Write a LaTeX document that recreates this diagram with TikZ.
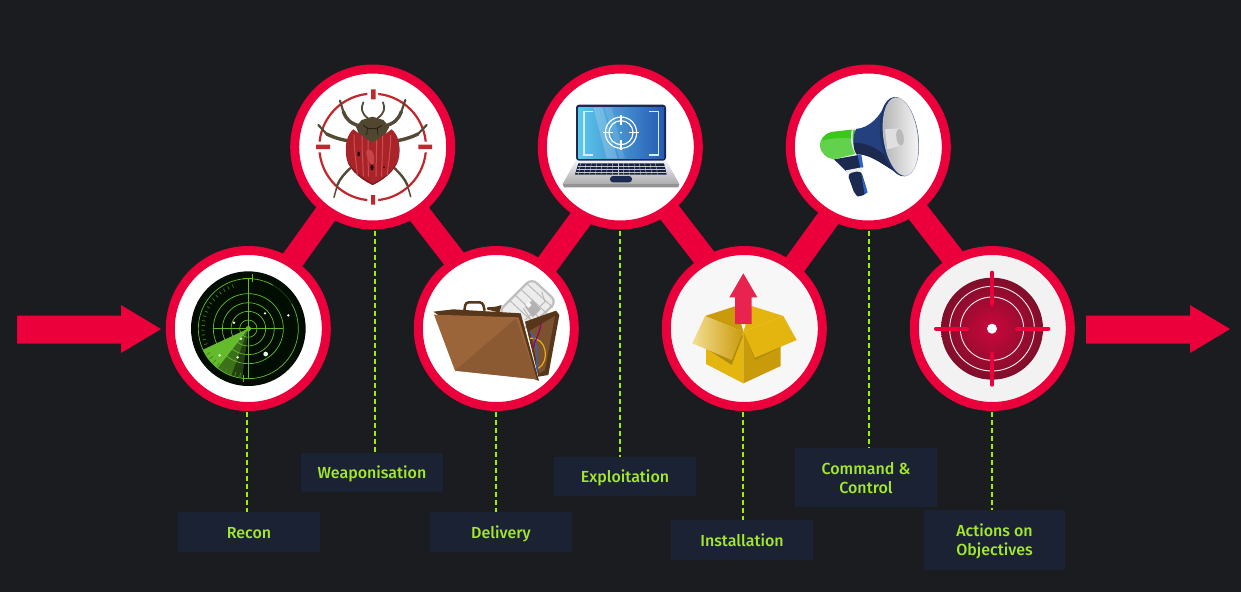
\documentclass[tikz,border=0pt]{standalone}
\usepackage{fontspec}
\setmainfont{Fira Sans}
\newfontfamily\lab{Fira Sans Medium}
\usetikzlibrary{calc,shadings}
\pgfdeclarelayer{bgl}\pgfdeclarelayer{barl}
\pgfsetlayers{bgl,barl,main}
\newcommand{\topst}{\rule{0pt}{17pt}}
\newcommand{\botst}{\rule[-5pt]{0pt}{5pt}}
\newcommand{\onest}{\rule[-5pt]{0pt}{22pt}}
\definecolor{pagebg}{HTML}{1A1C1F}
\definecolor{tagbg}{HTML}{1A2234}
\definecolor{redc}{HTML}{EB003B}
\definecolor{limec}{HTML}{9FEF00}
\definecolor{labc}{HTML}{A4E82A}
\definecolor{radg}{HTML}{64BC2C}
\definecolor{bugr}{HTML}{C1272D}
\definecolor{bugs}{HTML}{A82429}
\definecolor{bugd}{HTML}{7E1A1F}
\definecolor{bugl}{HTML}{CF4C52}
\definecolor{legc}{HTML}{544A38}
\definecolor{headc}{HTML}{51462F}
\definecolor{navyc}{HTML}{24407F}
\definecolor{navyd}{HTML}{1C2A50}
\definecolor{blued}{HTML}{2D63C8}
\definecolor{caseu}{HTML}{9B6539}
\definecolor{casel}{HTML}{8C5A32}
\definecolor{cased}{HTML}{573619}
\definecolor{casei}{HTML}{7A5230}
\definecolor{boxa}{HTML}{E5B50F}
\definecolor{boxb}{HTML}{C99A0A}
\definecolor{boxc}{HTML}{F5DE93}
\definecolor{boxd}{HTML}{AE8C10}
\definecolor{uparr}{HTML}{E8234F}
\definecolor{grna}{HTML}{3AC81C}
\definecolor{grnb}{HTML}{62D24C}
\definecolor{tgta}{HTML}{CC063C}
\definecolor{tgtb}{HTML}{7E0F2A}
\tikzset{
  stage/.style={circle,draw=redc,line width=9pt,inner sep=0pt,minimum size=156pt},
  tag/.style={fill=tagbg,minimum width=142pt,inner sep=0pt,outer sep=0pt,text=labc,align=center,font=\lab\fontsize{16}{19}\selectfont},
  drop/.style={draw=limec,line width=1.6pt,dash pattern=on 5pt off 3pt},
  bar/.style={draw=redc,line width=23pt},
  flow/.style={fill=redc},
  za/.style={shift={(150,60)},x=0.33333pt,y=-0.33333pt},
  zb/.style={shift={(410,60)},x=0.33333pt,y=-0.33333pt},
  zc/.style={shift={(660,60)},x=0.33333pt,y=-0.33333pt},
}
\begin{document}
\begin{tikzpicture}[x=1pt,y=-1pt]
\begin{pgfonlayer}{bgl}
\fill[pagebg] (0,0) rectangle (1241,592);
\end{pgfonlayer}
\useasboundingbox (0,0) rectangle (1241,592);
% stages
\node[stage,fill=white] (c1) at (248.3,328.5) {};
\node[stage,fill=white] (c2) at (372.7,147) {};
\node[stage,fill=white] (c3) at (496.3,328.5) {};
\node[stage,fill=white] (c4) at (620.3,147) {};
\node[stage,fill=white!97!black] (c5) at (744.3,328.5) {};
\node[stage,fill=white] (c6) at (868.3,147) {};
\node[stage,fill=white!95!black] (c7) at (992.3,328.5) {};
% bars
\begin{pgfonlayer}{barl}
\draw[bar] ($(c1.center)+(25,-41.7)$) -- ($(c2.center)+(-27.7,40.1)$);
\draw[bar] ($(c2.center)+(27.3,41.9)$) -- ($(c3.center)+(-23,-44.9)$);
\draw[bar] ($(c3.center)+(31.5,-37.6)$) -- ($(c4.center)+(-20,45)$);
\draw[bar] ($(c4.center)+(30,40.5)$) -- ($(c5.center)+(-22,-47.6)$);
\draw[bar] ($(c5.center)+(31,-36.7)$) -- ($(c6.center)+(-21,45)$);
\draw[bar] ($(c6.center)+(30.5,40.5)$) -- ($(c7.center)+(-20,-46)$);
\end{pgfonlayer}
% flow arrows
\fill[flow] (17,315.5) -- (121,315.5) -- (121,305) -- (161,329) -- (121,353) -- (121,343.5) -- (17,343.5) -- cycle;
\fill[flow] (1086,315.5) -- (1190,315.5) -- (1190,305) -- (1230,329) -- (1190,353) -- (1190,343.5) -- (1086,343.5) -- cycle;
% labels
\node[tag,minimum height=40pt] (l1) at (249,532) {\onest Recon};
\node[tag,minimum height=39pt] (l2) at (372,472.5) {\onest Weaponisation};
\node[tag,minimum height=40pt] (l3) at (501,532) {\onest Delivery};
\node[tag,minimum height=39pt] (l4) at (625,476.5) {\onest Exploitation};
\node[tag,minimum height=40pt] (l5) at (742,540) {\onest Installation};
\node[tag,minimum height=59pt] (l6) at (866,477.5) {\topst Command \&\\\botst Control};
\node[tag,minimum height=60pt,minimum width=141pt] (l7) at (994.5,540) {\topst Actions on\\\botst Objectives};
% connectors
\coordinate (d1) at (247,412);
\coordinate (d2) at (375,231);
\coordinate (d3) at (496,412);
\coordinate (d4) at (620,231);
\coordinate (d5) at (743,412);
\coordinate (d6) at (869,231);
\coordinate (d7) at (992,412);
\foreach \i in {1,...,7} {\draw[drop] (d\i) -- (d\i |- l\i.north);}

% ---------- radar
\begin{scope}[za]
\fill[black!95!green] (295,806) circle[radius=172];
\begin{scope}[shift={(295,806)}]
\fill[radg!35!black] (0,0) -- (97:150) arc[start angle=97,end angle=155,radius=150] -- cycle;
\fill[radg!60!black] (0,0) -- (110:150) arc[start angle=110,end angle=155,radius=150] -- cycle;
\fill[radg] (0,0) -- (128:150) arc[start angle=128,end angle=155,radius=150] -- cycle;
\foreach \r in {26,52,78,105} \draw[radg,line width=.7pt] (0,0) circle[radius=\r];
\draw[radg,line width=.7pt] (-105,0) -- (105,0);
\draw[radg,line width=.7pt] (0,-150) -- (0,150);
\draw[radg,line width=.7pt] (155:150) arc[start angle=155,end angle=300,radius=150];
\draw[radg!50!black,line width=.4pt] (-60:150) arc[start angle=-60,end angle=-30,radius=150];
\draw[radg,line width=.7pt] (-30:150) arc[start angle=-30,end angle=155,radius=150];
\draw[radg,line width=.7pt] (-15,-150) -- (15,-150) (-15,150) -- (15,150) (12,-164) -- (12,-140) (-15,140) -- (-15,160);
\foreach \a in {160,166,...,250} \draw[radg!60!black,line width=.8pt] (\a:131) -- (\a:141);
\foreach \a in {100,106,...,150} \draw[radg!70!black,line width=.8pt] (\a:135) -- (\a:147);
\fill[radg] (0,0) circle[radius=8];
\foreach \p/\s in {(-43,-18)/4,(50,-46)/4,(120,-40)/4,(-22,30)/4,(-86,80)/4,(-32,86)/4,(52,76)/7} \fill[white!90!green] \p circle[radius=\s];
\end{scope}
\end{scope}

% ---------- bug
\begin{scope}[za]
\draw[bugr,line width=2.2pt] (668,261) circle[radius=160];
\fill[white] (652,90) rectangle (684,125) (652,395) rectangle (684,435) (495,245) rectangle (535,277) (800,245) rectangle (850,277);
\fill[bugr] (663,88) rectangle (677,118) (663,405) rectangle (675,434) (498,254) rectangle (540,267) (805,254) rectangle (846,267);
\draw[legc,line width=3.4pt,line cap=round] (635,200) .. controls (600,190) and (590,180) .. (580,155);
\draw[legc,line width=2.2pt,line cap=round] (580,155) -- (570,122);
\draw[legc,line width=3.4pt,line cap=round] (699,200) .. controls (734,190) and (744,180) .. (754,155);
\draw[legc,line width=2.2pt,line cap=round] (754,155) -- (766,120);
\draw[legc,line width=3.4pt,line cap=round] (600,243) .. controls (575,240) and (550,232) .. (530,222);
\draw[legc,line width=2.2pt,line cap=round] (530,222) -- (505,195);
\draw[legc,line width=3.4pt,line cap=round] (734,243) .. controls (759,240) and (784,232) .. (804,222);
\draw[legc,line width=2.2pt,line cap=round] (804,222) -- (830,195);
\draw[legc,line width=2.4pt,line cap=round] (600,325) .. controls (585,340) and (570,355) .. (562,375);
\draw[legc,line width=1.5pt,line cap=round] (562,375) -- (552,412);
\draw[legc,line width=2.4pt,line cap=round] (734,325) .. controls (749,340) and (764,355) .. (772,375);
\draw[legc,line width=1.5pt,line cap=round] (772,375) -- (782,410);
\draw[legc,line width=1.8pt,line cap=round] (654,175) .. controls (634,160) and (632,145) .. (640,127);
\draw[legc,line width=1.8pt,line cap=round] (682,175) .. controls (704,160) and (706,145) .. (699,127);
\fill[headc] (618,200) -- (635,180) -- (667,170) -- (700,180) -- (718,200) -- (705,225) -- (667,250) -- (628,225) -- cycle;
\draw[black!70!headc,line width=.6pt] (640,195) .. controls (650,210) and (685,210) .. (695,195) (652,205) -- (650,225) (682,205) -- (684,225);
\fill[bugs] (610,208) -- (667,250) -- (725,208) .. controls (745,225) and (751,255) .. (748,285) .. controls (745,322) and (710,355) .. (668,375) .. controls (626,355) and (590,322) .. (588,285) .. controls (585,255) and (590,225) .. (610,208) -- cycle;
\begin{scope}
\clip (610,208) -- (667,250) -- (725,208) .. controls (745,225) and (751,255) .. (748,285) .. controls (745,322) and (710,355) .. (668,375) .. controls (626,355) and (590,322) .. (588,285) .. controls (585,255) and (590,225) .. (610,208) -- cycle;
\draw[bugd,line width=2.5pt] (585,300) .. controls (610,340) and (640,360) .. (668,375) .. controls (700,360) and (730,340) .. (750,300);
\foreach \xa/\xb in {612/622,636/640,654/655,680/678,698/695,722/712}
  \draw[bugl,line width=1pt] (\xa,225) .. controls (\xa,285) and (\xb,320) .. (\xb,350);
\fill[bugl!80!bugs] (650,270) .. controls (665,262) and (680,285) .. (668,320) .. controls (655,300) and (645,285) .. (650,270);
\end{scope}
\fill[black!85!red] (626,282) ellipse[x radius=4,y radius=7];
\fill[black!85!red] (666,322) ellipse[x radius=5,y radius=9];
\fill[black!85!red] (702,322) circle[radius=3];
\end{scope}

% ---------- briefcase
\begin{scope}[zb]
\draw[gray!50,fill=gray!15,line width=2.2pt,rounded corners=7pt] (265,755) -- (365,655) -- (440,725) -- (350,810) -- cycle;
\draw[gray!55,line width=1pt] (315,705) -- (395,780) (335,690) -- (412,762) (300,722) -- (378,795) (352,672) -- (428,742);
\draw[gray!55,line width=1pt] (345,780) -- (405,725) -- (395,695) (370,790) -- (340,745);
\fill[gray!60] (345,740) -- (368,720) -- (392,748) -- (368,772) -- cycle;
\fill[white!92!gray] (355,725) -- (365,735) -- (356,744) -- (347,735) -- cycle;
% case back panel
\fill[cased] (345,785) -- (438,752) -- (448,765) -- (415,945) -- (385,950) -- cycle;
\fill[casei] (360,812) -- (435,768) -- (405,930) -- (387,940) -- cycle;
\draw[boxa!90!orange,line width=1.2pt] (360,835) .. controls (412,830) and (420,905) .. (385,925);
\draw[blued,line width=1.2pt] (360,815) .. controls (390,850) and (375,885) .. (382,935);
\draw[violet!80!red,line width=1.2pt] (393,790) .. controls (388,830) and (372,840) .. (370,865);
\draw[cased,line width=2.5pt,rounded corners=3pt] (163,752) -- (167,727) -- (218,727) -- (224,752);
\fill[cased] (230,748) -- (232,742) -- (258,740) -- (275,735) -- (268,758) -- cycle;
\fill[cased] (70,755) -- (130,748) -- (332,760) -- (387,962) -- (378,960) -- cycle;
\fill[caseu] (72,764) -- (326,772) -- (380,958) -- (135,932) -- cycle;
\fill[casel] (318,775) -- (380,958) -- (135,932) -- cycle;
\end{scope}

% ---------- laptop
\begin{scope}[zb]
\path[top color=gray!30!blue!5!white,bottom color=gray!65] (498,300) -- (768,300) -- (808,372) -- (458,372) -- cycle;
\fill[gray!85] (458,372) -- (808,372) -- (805,382) -- (462,382) -- cycle;
\fill[navyd,rounded corners=3pt] (498,134) rectangle (768,302);
\path[left color=blued!50!cyan!70!white,right color=blued!90!black] (505,142) rectangle (762,295);
\fill[white,opacity=.2] (550,142) -- (578,142) -- (622,295) -- (590,295) -- cycle;
\fill[white,opacity=.13] (583,142) -- (605,142) -- (645,295) -- (628,295) -- cycle;
\draw[white!80!cyan,line width=1.2pt] (550,154) -- (522,154) -- (522,285) -- (550,285);
\draw[white!80!cyan,line width=1.2pt] (718,154) -- (746,154) -- (746,285) -- (718,285);
\draw[white,line width=1.2pt] (633,218) circle[radius=47];
\draw[white,line width=1.2pt] (633,218) circle[radius=36];
\draw[white,line width=1.2pt] (580,218) -- (610,218) (656,218) -- (686,218) (633,165) -- (633,195) (633,241) -- (633,271);
\fill[white] (633,218) circle[radius=3];
\fill[navyd!80!black] (505,310) -- (762,310) -- (770,344) -- (495,344) -- cycle;
\foreach \yy/\xa/\xb in {318/503/764,327/500/766,336/498/768} \draw[gray!45,line width=.5pt] (\xa,\yy) -- (\xb,\yy);
\foreach \k in {0,1,...,14} \draw[gray!45,line width=.4pt] ({512+\k*16},310) -- ({505+\k*17},344);
\fill[navyd,rounded corners=3pt] (600,348) rectangle (666,367);
\end{scope}

% ---------- box
\begin{scope}[zc]
\fill[boxb] (135,768) -- (228,738) -- (250,815) -- cycle;
\fill[boxa] (275,738) -- (370,768) -- (250,815) -- cycle;
\fill[uparr] (250,640) -- (292,712) -- (275,712) -- (275,792) -- (225,792) -- (225,712) -- (208,712) -- cycle;
\fill[boxa] (138,860) -- (250,815) -- (250,970) -- (138,912) -- cycle;
\fill[boxb] (250,815) -- (362,860) -- (362,918) -- (250,970) -- cycle;
\fill[boxd] (138,865) -- (250,825) -- (215,915) -- cycle;
\fill[boxd] (252,820) -- (362,862) -- (285,900) -- cycle;
\path[left color=boxc,right color=boxb] (97,850) -- (135,768) -- (250,815) -- (215,900) -- cycle;
\fill[boxa] (250,815) -- (370,768) -- (410,840) -- (285,893) -- cycle;
\end{scope}

% ---------- megaphone
\begin{scope}[zc]
\fill[navyd] (522,298) -- (595,285) -- (605,325) -- (560,335) -- cycle;
\fill[blued] (593,286) -- (604,284) -- (610,322) -- (601,324) -- cycle;
\fill[white!85!gray] (558,331) -- (605,322) -- (607,331) -- (561,341) -- cycle;
\fill[navyd,rounded corners=4pt] (562,341) -- (603,332) -- (623,397) -- (600,412) -- (585,405) -- cycle;
\fill[blued] (603,337) -- (623,397) -- (614,403) -- cycle;
\fill[grnb] (585,208) -- (515,216) .. controls (490,222) and (478,240) .. (480,258) .. controls (482,280) and (500,296) .. (522,298) -- (585,282) -- cycle;
\fill[grna] (585,208) -- (515,216) .. controls (500,219) and (490,230) .. (486,242) .. controls (520,232) and (555,232) .. (580,236) -- cycle;
\draw[white!85!gray,line width=1.5pt] (586,207) -- (578,208) .. controls (572,235) and (576,262) .. (590,284);
\fill[navyc] (588,207) .. controls (630,203) and (660,170) .. (680,125) -- (735,348) .. controls (690,335) and (640,280) .. (590,283) .. controls (578,262) and (576,235) .. (588,207) -- cycle;
\fill[navyd] (584,248) .. controls (635,250) and (680,280) .. (700,320) -- (735,348) .. controls (690,335) and (640,280) .. (590,283) .. controls (582,272) and (580,260) .. (584,248) -- cycle;
\fill[navyd!80!blued,rotate around={8:(718,230)}] (718,230) ellipse[x radius=57,y radius=120];
\fill[white!70!navyc,rotate around={8:(722,230)}] (722,230) ellipse[x radius=52,y radius=119];
\path[left color=gray!60,right color=white!95!gray,rotate around={8:(722,230)}] (722,230) ellipse[x radius=50,y radius=117];
\fill[gray!25] (675,208) -- (720,205) -- (730,255) -- (682,268) -- cycle;
\fill[gray!55,rotate around={8:(720,232)}] (720,232) ellipse[x radius=11,y radius=25];
\end{scope}

% ---------- target
\begin{scope}[zc]
\path[inner color=tgta,outer color=tgtb] (996,806) circle[radius=153];
\draw[white!75!pink,line width=.9pt] (996,806) circle[radius=127];
\draw[white!75!pink,line width=.9pt] (996,806) circle[radius=95];
\draw[redc,line width=4pt,line cap=round] (996,638) -- (996,733) (996,880) -- (996,974) (828,806) -- (922,806) (1070,806) -- (1165,806);
\fill[white] (996,806) circle[radius=15];
\end{scope}
\end{tikzpicture}
\end{document}
